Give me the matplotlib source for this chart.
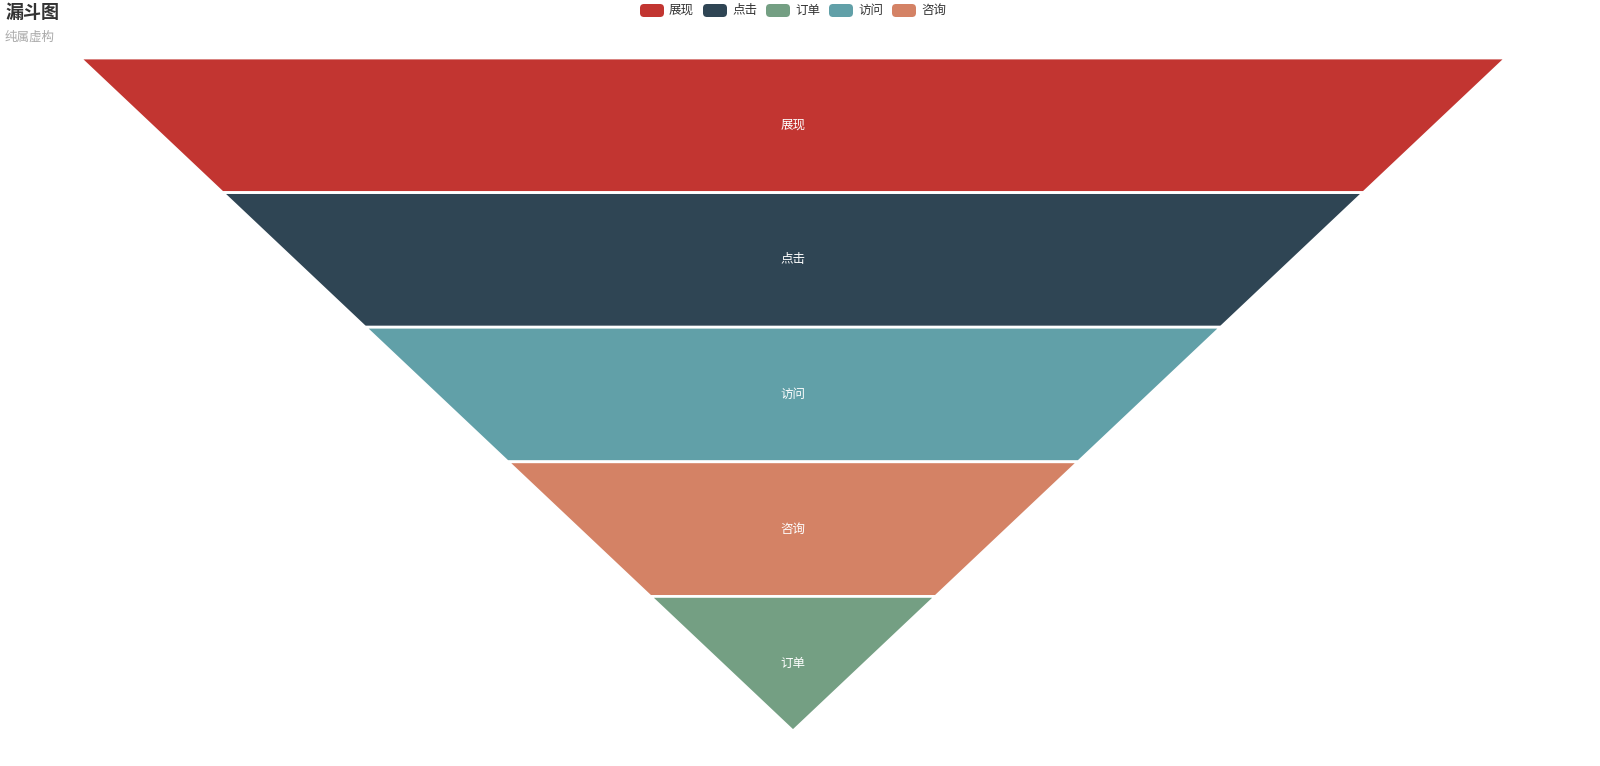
import matplotlib.pyplot as plt
from matplotlib.patches import Polygon, FancyBboxPatch

plt.rcParams['font.family'] = ['Noto Sans CJK SC', 'DejaVu Sans']

names = ["展现", "点击", "访问", "咨询", "订单"]
values = [100, 80, 60, 40, 20]
colors = ["#c23531", "#2f4554", "#61a0a8", "#d48265", "#749f83"]
legend_order = ["展现", "点击", "订单", "访问", "咨询"]
color_of = dict(zip(names, colors))

W, H = 1600, 766
fig = plt.figure(figsize=(W / 100, H / 100), dpi=100)
ax = fig.add_axes([0, 0, 1, 1])
ax.set_xlim(0, W)
ax.set_ylim(H, 0)
ax.axis("off")

cx, top, bottom, full_w = 793, 58, 731, 1426
step = (bottom - top) / len(values)
for i, (n, v) in enumerate(zip(names, values)):
    nxt = values[i + 1] if i + 1 < len(values) else 0
    y0, y1 = top + i * step, top + (i + 1) * step
    w0, w1 = full_w * v / 100 / 2, full_w * nxt / 100 / 2
    ax.add_patch(Polygon([(cx - w0, y0), (cx + w0, y0), (cx + w1, y1), (cx - w1, y1)],
                         closed=True, facecolor=colors[i], edgecolor="white", linewidth=2))
    ax.text(cx, (y0 + y1) / 2, n, color="white", fontsize=9, ha="center", va="center")

ax.text(5, 12, "漏斗图", fontsize=13, fontweight="bold", color="#333333", va="center")
ax.text(5, 37, "纯属虚构", fontsize=9, color="#aaaaaa", va="center")

x = 640
for n in legend_order:
    ax.add_patch(FancyBboxPatch((x, 4), 24, 13, boxstyle="round,pad=0,rounding_size=4",
                                facecolor=color_of[n], edgecolor="none"))
    ax.text(x + 29, 10.5, n, fontsize=9, color="#333333", va="center")
    x += 63

fig.savefig("out.png", dpi=100)
